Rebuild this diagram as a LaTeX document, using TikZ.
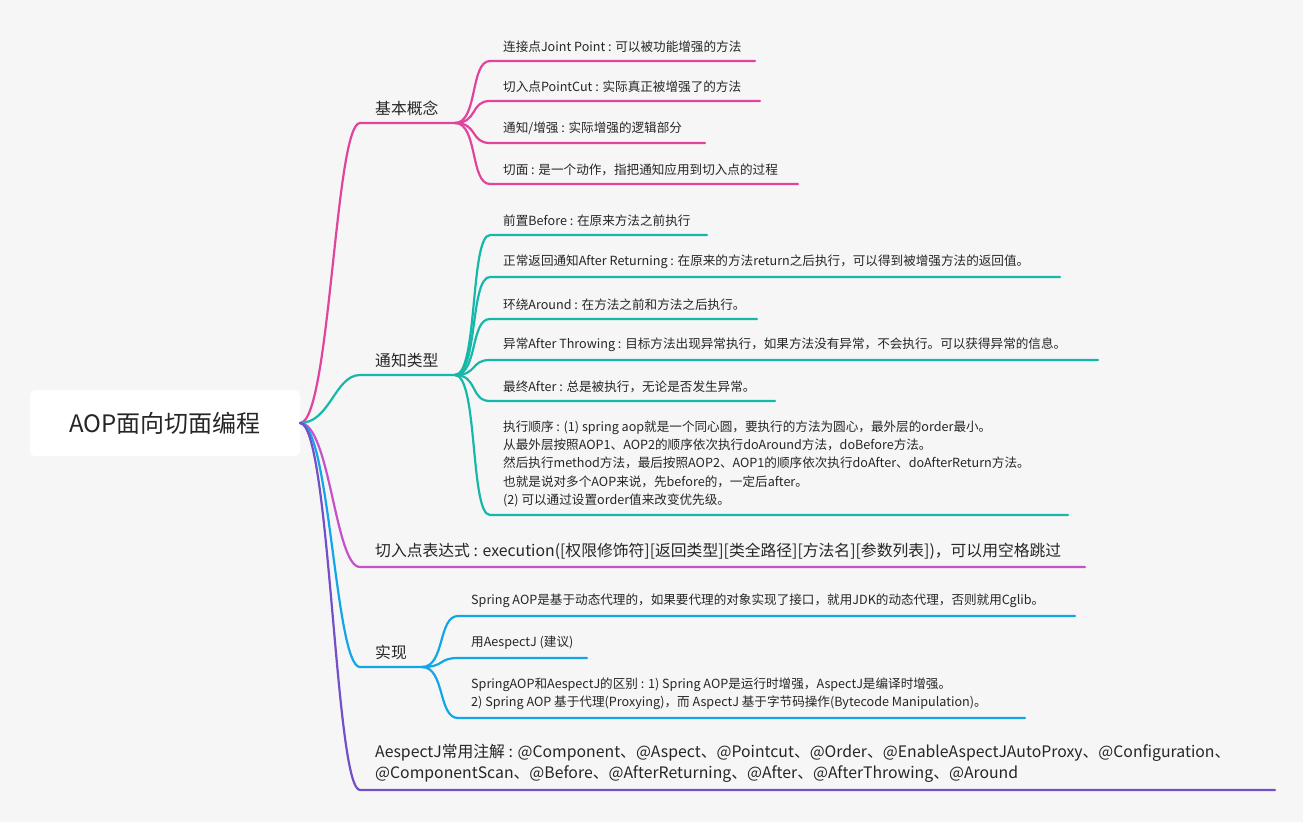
\documentclass[tikz,border=0pt]{standalone}
\usepackage{fontspec}
\setmainfont{Noto Sans CJK SC}
\definecolor{cA}{HTML}{E0449C}
\definecolor{cB}{HTML}{16B8AA}
\definecolor{cC}{HTML}{C651C9}
\definecolor{cD}{HTML}{12A6E8}
\definecolor{cE}{HTML}{7450C8}
\definecolor{bg}{HTML}{F6F6F6}
\tikzset{
 lf/.style={anchor=south west,inner sep=0pt,font=\fontsize{12.6}{18.3}\selectfont,align=left,text=black!85},
 cat/.style={anchor=south west,inner sep=0pt,font=\fontsize{15.8}{21}\selectfont,text=black!85},
 ln/.style={line width=2.2pt,line cap=round}
}
\usetikzlibrary{calc}
\begin{document}
\begin{tikzpicture}[x=1pt,y=-1pt]
\fill[bg] (0,0) rectangle (1303,822);
\useasboundingbox (0,0) rectangle (1303,822);
\node[fill=white,rounded corners=5pt,minimum width=270pt,minimum height=66pt,inner sep=0pt,font=\fontsize{24}{26}\selectfont,text=black!85] (root) at (165,423) {AOP面向切面编程};
\coordinate (r) at (300,423);
% categories
\foreach \n/\c/\y/\e in {A/cA/123/455,B/cB/375/455,C/cC/567/1085,D/cD/667/422,E/cE/790/1275}{
 \coordinate (\n0) at (360,\y);
 \coordinate (\n1) at (\e,\y);
 \draw[ln,\c] (r) .. controls (330,423) and (335,\y) .. (\n0) -- (\n1);
}
\node[cat] (tA) at (375,116) {基本概念};
\node[cat] (tB) at (375,368) {通知类型};
\node[cat] (tC) at (375,560) {切入点表达式 : execution([权限修饰符][返回类型][类全路径][方法名][参数列表])，可以用空格跳过};
\node[cat] (tD) at (375,660) {实现};
\node[cat,align=left] (tE) at (375,783) {AespectJ常用注解 : @Component、@Aspect、@Pointcut、@Order、@EnableAspectJAutoProxy、@Configuration、\\@ComponentScan、@Before、@AfterReturning、@After、@AfterThrowing、@Around};
% leaves A
\foreach \i/\y/\e/\t in {1/61/755/{连接点Joint Point : 可以被功能增强的方法},2/101/760/{切入点PointCut : 实际真正被增强了的方法},3/143/705/{通知/增强 : 实际增强的逻辑部分},4/184/798/{切面 : 是一个动作，指把通知应用到切入点的过程}}{
 \coordinate (a\i s) at (490,\y); \coordinate (a\i e) at (\e,\y);
 \draw[ln,cA] (A1) .. controls (478,123) and (470,\y) .. (a\i s) -- (a\i e);
 \node[lf] (la\i) at (503,\y-8) {\t};
}
% leaves B
\foreach \i/\y/\e/\t in {1/235/707/{前置Before : 在原来方法之前执行},2/277/1060/{正常返回通知After Returning : 在原来的方法return之后执行，可以得到被增强方法的返回值。},3/319/757/{环绕Around : 在方法之前和方法之后执行。},4/360/1098/{异常After Throwing : 目标方法出现异常执行，如果方法没有异常，不会执行。可以获得异常的信息。},5/401/775/{最终After : 总是被执行，无论是否发生异常。},6/515/1068/{执行顺序 : (1) spring aop就是一个同心圆，要执行的方法为圆心，最外层的order最小。\\从最外层按照AOP1、AOP2的顺序依次执行doAround方法，doBefore方法。\\然后执行method方法，最后按照AOP2、AOP1的顺序依次执行doAfter、doAfterReturn方法。\\也就是说对多个AOP来说，先before的，一定后after。\\(2) 可以通过设置order值来改变优先级。}}{
 \coordinate (b\i s) at (490,\y); \coordinate (b\i e) at (\e,\y);
 \draw[ln,cB] (B1) .. controls (478,375) and (470,\y) .. (b\i s) -- (b\i e);
 \node[lf] (lb\i) at (503,\y-8) {\t};
}
% leaves D
\foreach \i/\y/\e/\t in {1/616/1075/{Spring AOP是基于动态代理的，如果要代理的对象实现了接口，就用JDK的动态代理，否则就用Cglib。},2/658/587/{用AespectJ (建议)},3/718/1025/{SpringAOP和AespectJ的区别 : 1) Spring AOP是运行时增强，AspectJ是编译时增强。\\2) Spring AOP 基于代理(Proxying)，而 AspectJ 基于字节码操作(Bytecode Manipulation)。}}{
 \coordinate (d\i s) at (458,\y); \coordinate (d\i e) at (\e,\y);
 \draw[ln,cD] (D1) .. controls (445,667) and (438,\y) .. (d\i s) -- (d\i e);
 \node[lf] (ld\i) at (471,\y-8) {\t};
}
\end{tikzpicture}
\end{document}
